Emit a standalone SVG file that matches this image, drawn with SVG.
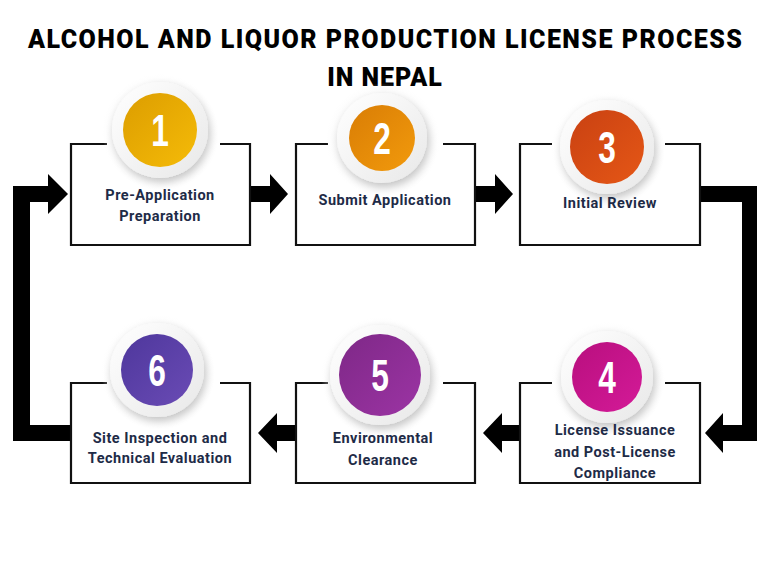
<svg xmlns="http://www.w3.org/2000/svg" width="768" height="576" viewBox="0 0 768 576">
<defs>
<style>
.title{font-family:Roboto,"Liberation Sans",sans-serif;font-weight:900;font-size:25px;fill:#000;text-anchor:middle}
.lbl{font-family:Roboto,"Liberation Sans",sans-serif;font-weight:700;font-size:14.5px;letter-spacing:0.5px;fill:#1e2b47;text-anchor:middle}
.num{font-family:"Liberation Sans",Arial,sans-serif;font-weight:700;font-size:44px;fill:#fff;text-anchor:middle}
.box{fill:none;stroke:#111;stroke-width:2.2}
.ring{fill:url(#ringG);filter:url(#sh)}
.conn{fill:#000}
</style>
<filter id="sh" x="-40%" y="-40%" width="180%" height="180%">
<feGaussianBlur in="SourceAlpha" stdDeviation="4"/>
<feOffset dx="2" dy="4" result="b"/>
<feComponentTransfer><feFuncA type="linear" slope="0.22"/></feComponentTransfer>
<feMerge><feMergeNode/><feMergeNode in="SourceGraphic"/></feMerge>
</filter>
<radialGradient id="halo" r="0.5">
<stop offset="0.7" stop-color="#f5f5f5" stop-opacity="0.8"/>
<stop offset="1" stop-color="#f8f8f8" stop-opacity="0"/>
</radialGradient>
<linearGradient id="ringG" x1="0" y1="0" x2="1" y2="1">
<stop offset="0" stop-color="#ffffff"/>
<stop offset="1" stop-color="#e8e8e8"/>
</linearGradient>
<linearGradient id="g1" x1="0" y1="0" x2="1" y2="1"><stop offset="0" stop-color="#dc9d00"/><stop offset="1" stop-color="#f5bb08"/></linearGradient>
<linearGradient id="g2" x1="0" y1="0" x2="1" y2="1"><stop offset="0" stop-color="#d97d05"/><stop offset="1" stop-color="#f29a0c"/></linearGradient>
<linearGradient id="g3" x1="0" y1="0" x2="1" y2="1"><stop offset="0" stop-color="#c94112"/><stop offset="1" stop-color="#e55716"/></linearGradient>
<linearGradient id="g4" x1="0" y1="0" x2="1" y2="1"><stop offset="0" stop-color="#b80f7e"/><stop offset="1" stop-color="#d41a98"/></linearGradient>
<linearGradient id="g5" x1="0" y1="0" x2="1" y2="1"><stop offset="0" stop-color="#7e2887"/><stop offset="1" stop-color="#9c34a4"/></linearGradient>
<linearGradient id="g6" x1="0" y1="0" x2="1" y2="1"><stop offset="0" stop-color="#4e379c"/><stop offset="1" stop-color="#6a4bb5"/></linearGradient>
</defs>
<rect width="768" height="576" fill="#fff"/>
<g id="title">
<text class="title" x="385" y="48" textLength="714" lengthAdjust="spacing">ALCOHOL AND LIQUOR PRODUCTION LICENSE PROCESS</text>
<text class="title" x="385" y="86" letter-spacing="1">IN NEPAL</text>
</g>
<g id="connectors">
<path class="conn" d="M70,425 H30 V202 H48 V214 L68,194 L48,174 V186 H13 V441 H70 Z"/>
<path class="conn" d="M250,186 H270 V174 L288,194 L270,214 V202 H250 Z"/>
<path class="conn" d="M475,186 H495 V174 L513,194 L495,214 V202 H475 Z"/>
<path class="conn" d="M700,186 H757 V441 H723 V453 L705,433 L723,413 V425 H742 V202 H700 Z"/>
<path class="conn" d="M520,425 H502 V413 L483,433 L502,453 V441 H520 Z"/>
<path class="conn" d="M295,425 H277 V413 L258,433 L277,453 V441 H295 Z"/>
</g>
<g id="node1">
<path class="box" d="M107,144 H71 V245 H250 V144 H220"/>
<circle cx="160" cy="132" r="58" fill="url(#halo)"/>
<circle class="ring" cx="160" cy="130" r="48"/>
<circle cx="160" cy="130" r="37" fill="url(#g1)"/>
<text class="num" transform="translate(160,146) scale(0.72,1)">1</text>
<text class="lbl" x="160" y="200">Pre-Application</text>
<text class="lbl" x="160" y="221">Preparation</text>
</g>
<g id="node2">
<path class="box" d="M328,144 H296 V245 H475 V144 H443"/>
<circle cx="383" cy="140" r="57" fill="url(#halo)"/>
<circle class="ring" cx="382" cy="138" r="45"/>
<circle cx="382" cy="138" r="33" fill="url(#g2)"/>
<text class="num" transform="translate(382,154) scale(0.72,1)">2</text>
<text class="lbl" x="385" y="205">Submit Application</text>
</g>
<g id="node3">
<path class="box" d="M552,144 H520 V245 H700 V144 H665"/>
<circle cx="608" cy="149" r="57" fill="url(#halo)"/>
<circle class="ring" cx="607" cy="147" r="47"/>
<circle cx="607" cy="147" r="37" fill="url(#g3)"/>
<text class="num" transform="translate(607,163) scale(0.72,1)">3</text>
<text class="lbl" x="610" y="208">Initial Review</text>
</g>
<g id="node4">
<path class="box" d="M552,383 H520 V483 H700 V383 H665"/>
<circle cx="608" cy="379" r="57" fill="url(#halo)"/>
<circle class="ring" cx="607" cy="377" r="46"/>
<circle cx="607" cy="377" r="35" fill="url(#g4)"/>
<text class="num" transform="translate(607,393) scale(0.72,1)">4</text>
<text class="lbl" x="615" y="435">License Issuance</text>
<text class="lbl" x="615" y="457">and Post-License</text>
<text class="lbl" x="615" y="478">Compliance</text>
</g>
<g id="node5">
<path class="box" d="M328,383 H296 V483 H475 V383 H443"/>
<circle cx="381" cy="377" r="60" fill="url(#halo)"/>
<circle class="ring" cx="380" cy="375" r="50"/>
<circle cx="380" cy="375" r="41" fill="url(#g5)"/>
<text class="num" transform="translate(380,391) scale(0.72,1)">5</text>
<text class="lbl" x="383" y="443">Environmental</text>
<text class="lbl" x="383" y="465">Clearance</text>
</g>
<g id="node6">
<path class="box" d="M107,383 H71 V483 H250 V383 H220"/>
<circle cx="158" cy="372" r="57" fill="url(#halo)"/>
<circle class="ring" cx="157" cy="370" r="47"/>
<circle cx="157" cy="370" r="36" fill="url(#g6)"/>
<text class="num" transform="translate(157,386) scale(0.72,1)">6</text>
<text class="lbl" x="160" y="443">Site Inspection and</text>
<text class="lbl" x="160" y="463">Technical Evaluation</text>
</g>
</svg>
